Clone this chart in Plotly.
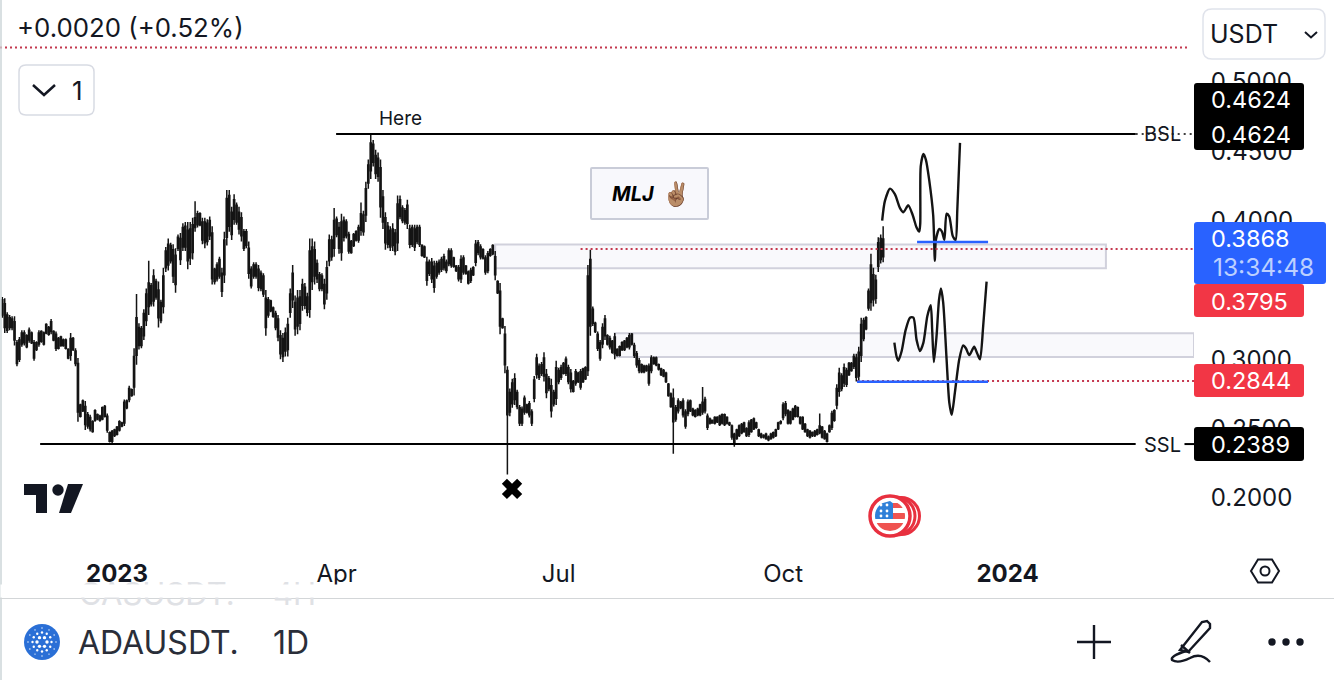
import math
import pandas as pd
import plotly.graph_objects as go

W, H = 1334, 680

# one candle per day from 2022-11-15, all drawn black so direction can't be read from the picture
first_day = "2022-11-15"
candle_high = [
    .345,.344,.334,.332,.331,.331,.314,.316,.321,.321,
    .318,.323,.320,.314,.313,.321,.321,.320,.326,.324,
    .329,.321,.320,.316,.317,.315,.315,.308,.319,.316,
    .308,.301,.268,.271,.270,.262,.260,.256,.264,.261,
    .260,.266,.267,.261,.248,.249,.250,.252,.256,.255,
    .271,.271,.281,.279,.308,.347,.326,.324,.336,.351,
    .371,.355,.365,.358,.356,.343,.366,.381,.387,.384,
    .383,.380,.390,.391,.398,.399,.399,.399,.402,.414,
    .407,.406,.402,.402,.401,.403,.396,.366,.370,.374,
    .366,.392,.422,.422,.410,.419,.413,.410,.406,.394,
    .394,.385,.367,.370,.370,.368,.364,.362,.350,.345,
    .343,.338,.335,.332,.321,.319,.323,.330,.351,.368,
    .346,.350,.350,.358,.355,.348,.387,.387,.385,.372,
    .363,.362,.358,.371,.390,.389,.409,.403,.399,.405,
    .403,.401,.392,.386,.391,.393,.397,.413,.407,.428,
    .444,.462,.458,.451,.449,.444,.422,.406,.399,.396,
    .398,.394,.418,.418,.411,.409,.415,.397,.397,.397,
    .397,.397,.383,.382,.374,.372,.373,.371,.371,.372,
    .374,.376,.372,.380,.380,.374,.368,.368,.375,.375,
    .368,.364,.366,.367,.386,.386,.383,.380,.375,.378,
    .380,.383,.378,.357,.355,.330,.324,.295,.279,.286,
    .290,.278,.267,.266,.274,.268,.270,.264,.288,.304,
    .297,.298,.305,.293,.288,.286,.278,.299,.294,.296,
    .298,.302,.296,.293,.285,.293,.291,.293,.294,.295,
    .368,.379,.338,.327,.320,.314,.326,.332,.318,.317,
    .314,.319,.308,.310,.313,.314,.316,.319,.319,.312,
    .306,.301,.297,.296,.296,.297,.303,.302,.302,.297,
    .294,.293,.291,.283,.276,.279,.267,.272,.270,.272,
    .264,.271,.271,.265,.264,.265,.268,.280,.273,.261,
    .258,.256,.259,.259,.260,.261,.261,.259,.255,.253,
    .247,.250,.253,.254,.255,.251,.256,.257,.258,.255,
    .250,.247,.246,.247,.245,.247,.248,.250,.255,.256,
    .269,.270,.264,.263,.265,.267,.266,.259,.259,.254,
    .250,.249,.248,.249,.250,.261,.252,.249,.247,.253,
    .263,.264,.282,.294,.290,.297,.294,.298,.298,.304,
    .304,.309,.330,.330,.331,.351,.376,.366,.361,.388,
    .390,.396,
]
candle_low = [
    .330,.319,.319,.321,.321,.310,.295,.298,.309,.310,
    .308,.312,.311,.299,.306,.309,.312,.310,.318,.317,
    .318,.313,.306,.307,.309,.309,.307,.300,.299,.306,
    .295,.255,.258,.262,.249,.250,.248,.247,.255,.256,
    .255,.256,.258,.247,.240,.239,.244,.245,.248,.251,
    .252,.264,.269,.273,.274,.296,.307,.308,.314,.324,
    .332,.338,.338,.343,.323,.326,.333,.363,.364,.369,
    .355,.348,.378,.368,.378,.378,.365,.368,.372,.392,
    .395,.396,.383,.380,.382,.386,.354,.354,.356,.358,
    .345,.355,.382,.392,.386,.397,.397,.390,.385,.378,
    .380,.358,.351,.358,.358,.349,.349,.345,.317,.330,
    .334,.330,.321,.313,.300,.298,.302,.302,.330,.337,
    .317,.318,.321,.335,.336,.331,.330,.350,.354,.355,
    .349,.349,.336,.343,.367,.371,.374,.388,.376,.371,
    .385,.387,.376,.376,.381,.385,.384,.389,.389,.399,
    .423,.430,.439,.430,.428,.402,.394,.379,.380,.378,
    .378,.375,.378,.401,.398,.397,.394,.380,.381,.378,
    .383,.381,.374,.373,.353,.360,.355,.348,.358,.361,
    .363,.364,.362,.367,.366,.366,.363,.356,.355,.361,
    .361,.354,.355,.360,.367,.375,.372,.372,.361,.362,
    .374,.375,.357,.347,.318,.322,.290,.217,.259,.265,
    .267,.264,.252,.252,.260,.261,.258,.252,.269,.286,
    .285,.288,.284,.272,.277,.258,.266,.267,.282,.285,
    .289,.288,.282,.276,.276,.281,.283,.278,.283,.285,
    .288,.317,.324,.319,.306,.299,.308,.314,.310,.307,
    .304,.300,.302,.302,.306,.306,.308,.307,.310,.301,
    .294,.290,.290,.290,.291,.281,.290,.296,.295,.292,
    .288,.287,.283,.273,.265,.232,.255,.261,.264,.258,
    .250,.259,.262,.259,.258,.259,.259,.260,.261,.249,
    .253,.254,.253,.254,.252,.253,.252,.253,.252,.242,
    .237,.242,.244,.246,.247,.244,.244,.247,.249,.250,
    .244,.243,.243,.242,.241,.242,.243,.244,.249,.253,
    .256,.259,.253,.253,.256,.258,.258,.253,.249,.247,
    .244,.243,.244,.244,.245,.246,.243,.242,.240,.247,
    .249,.255,.264,.273,.277,.280,.280,.288,.291,.293,
    .284,.284,.298,.313,.321,.335,.335,.338,.340,.363,
    .369,.370,
]
body_top = [
    .343,.340,.332,.330,.329,.327,.312,.314,.319,.319,
    .317,.321,.319,.312,.312,.319,.320,.319,.325,.323,
    .327,.320,.318,.315,.316,.314,.314,.307,.315,.315,
    .306,.297,.267,.270,.266,.260,.258,.255,.263,.260,
    .259,.265,.266,.259,.247,.248,.249,.251,.255,.254,
    .269,.270,.279,.278,.302,.330,.323,.322,.333,.347,
    .355,.353,.360,.356,.350,.341,.360,.378,.383,.382,
    .379,.375,.388,.387,.395,.396,.393,.394,.397,.402,
    .405,.405,.399,.399,.398,.400,.391,.365,.368,.372,
    .362,.386,.416,.418,.406,.415,.411,.406,.402,.392,
    .392,.380,.365,.368,.368,.365,.362,.360,.344,.343,
    .342,.337,.333,.329,.317,.315,.319,.325,.347,.362,
    .341,.344,.345,.354,.352,.345,.378,.381,.379,.369,
    .361,.360,.354,.366,.386,.386,.400,.401,.395,.399,
    .400,.399,.390,.385,.390,.392,.395,.405,.404,.423,
    .440,.456,.455,.447,.445,.438,.417,.402,.396,.393,
    .394,.391,.412,.415,.409,.407,.411,.394,.395,.394,
    .395,.395,.382,.381,.370,.370,.370,.367,.369,.370,
    .372,.374,.370,.378,.378,.373,.367,.366,.372,.373,
    .367,.363,.364,.366,.383,.384,.381,.379,.373,.376,
    .379,.382,.374,.356,.349,.329,.318,.292,.276,.283,
    .286,.276,.265,.264,.272,.267,.268,.262,.285,.301,
    .295,.296,.301,.289,.286,.281,.276,.294,.292,.294,
    .297,.300,.294,.290,.284,.291,.290,.291,.293,.294,
    .360,.372,.336,.326,.318,.312,.323,.329,.317,.315,
    .313,.316,.307,.309,.312,.313,.315,.317,.318,.310,
    .304,.299,.296,.295,.295,.295,.301,.301,.301,.296,
    .293,.292,.290,.282,.275,.272,.265,.270,.269,.270,
    .262,.269,.270,.264,.263,.264,.267,.269,.271,.259,
    .257,.256,.258,.258,.259,.260,.260,.258,.254,.252,
    .246,.249,.252,.253,.254,.250,.254,.256,.257,.254,
    .249,.246,.245,.246,.244,.246,.247,.249,.254,.255,
    .267,.268,.263,.262,.264,.266,.265,.258,.258,.253,
    .249,.248,.247,.248,.249,.252,.251,.248,.246,.252,
    .261,.263,.279,.290,.288,.294,.292,.297,.297,.302,
    .301,.305,.325,.328,.330,.349,.368,.361,.357,.384,
    .387,.3868,
]
body_bottom = [
    .332,.323,.321,.323,.323,.314,.297,.300,.311,.312,
    .309,.314,.312,.301,.307,.311,.313,.311,.319,.318,
    .320,.314,.308,.308,.310,.310,.308,.301,.303,.307,
    .297,.262,.259,.263,.253,.252,.250,.248,.256,.257,
    .256,.257,.259,.249,.241,.241,.245,.246,.249,.252,
    .254,.265,.271,.274,.280,.303,.310,.310,.317,.328,
    .338,.340,.342,.345,.330,.328,.338,.366,.368,.371,
    .360,.354,.380,.372,.381,.381,.371,.373,.377,.395,
    .397,.397,.386,.384,.385,.389,.358,.356,.358,.360,
    .349,.361,.388,.396,.390,.401,.399,.394,.389,.380,
    .382,.362,.353,.360,.360,.352,.351,.347,.323,.332,
    .335,.331,.323,.316,.304,.302,.306,.307,.334,.343,
    .322,.324,.326,.339,.339,.334,.336,.356,.360,.358,
    .351,.351,.340,.348,.371,.374,.380,.390,.380,.377,
    .388,.389,.378,.377,.382,.386,.386,.393,.392,.404,
    .427,.436,.442,.434,.432,.410,.399,.384,.383,.381,
    .382,.378,.384,.403,.400,.399,.398,.383,.383,.381,
    .385,.383,.375,.374,.357,.362,.358,.352,.360,.363,
    .365,.366,.364,.369,.368,.367,.364,.358,.358,.363,
    .362,.355,.357,.361,.370,.377,.374,.373,.363,.364,
    .375,.376,.361,.348,.324,.323,.296,.260,.262,.268,
    .271,.266,.254,.254,.262,.262,.260,.254,.272,.289,
    .287,.290,.288,.276,.279,.263,.268,.272,.284,.287,
    .290,.290,.284,.279,.277,.283,.284,.280,.284,.286,
    .292,.324,.326,.320,.308,.301,.311,.317,.311,.309,
    .305,.304,.303,.303,.307,.307,.309,.309,.311,.303,
    .296,.292,.291,.291,.292,.283,.292,.297,.296,.293,
    .289,.288,.284,.274,.266,.255,.257,.263,.265,.260,
    .252,.261,.263,.260,.259,.260,.260,.262,.263,.251,
    .254,.254,.254,.255,.253,.254,.253,.254,.253,.244,
    .239,.243,.245,.247,.248,.245,.246,.248,.250,.251,
    .245,.244,.244,.243,.242,.243,.244,.245,.250,.254,
    .258,.261,.254,.254,.257,.259,.259,.254,.250,.248,
    .245,.244,.245,.245,.246,.247,.244,.243,.241,.248,
    .251,.256,.267,.277,.279,.283,.282,.289,.292,.295,
    .287,.288,.303,.315,.322,.337,.341,.343,.344,.367,
    .372,.374,
]

# hand drawn forecast curves: days after 2023-01-01, price
upper_days = [313.6,314.7,316.8,318.8,320.9,322.3,324.3,326.1,327.7,328.8,329.2,329.4,330.5,331.5,
              332.9,334.5,335.2,335.6,337.0,338.1,339.1,340.0,341.1,342.5,343.7,344.4,345.5]
upper_price = [.400,.414,.423,.419,.409,.406,.411,.404,.395,.392,.398,.439,.448,.444,
               .429,.404,.371,.386,.394,.392,.386,.405,.403,.389,.386,.408,.456]
lower_days = [318.6,319.5,320.2,321.6,323.2,325.0,326.4,327.7,329.1,330.5,332.1,333.5,334.1,334.8,335.9,
              336.9,337.7,338.6,340.0,341.1,342.1,343.4,345.2,346.8,347.9,349.3,351.3,352.6,353.7,355.0,356.4]
lower_price = [.312,.302,.299,.306,.321,.330,.330,.314,.306,.312,.331,.339,.321,.298,.317,
               .343,.351,.341,.300,.269,.260,.276,.300,.310,.308,.303,.309,.304,.300,.324,.356]

x_ticks = ["2023-01-01", "2023-04-01", "2023-07-01", "2023-10-01", "2024-01-01"]
x_labels = ["<b>2023</b>", "Apr", "Jul", "Oct", "<b>2024</b>"]
y_ticks = [0.20, 0.25, 0.30, 0.35, 0.40, 0.45, 0.50]

bsl_level, ssl_level = 0.4624, 0.2389
top_zone = (0.3657, 0.3827)
low_zone = (0.3017, 0.3187)

DARK = "#131722"
RED_DOT = "#c4384f"
BLUE = "#2962ff"
ZONE_FILL = "#f9f9fc"
ZONE_LINE = "#d1d1dc"

dates = pd.date_range(first_day, periods=len(candle_high), freq="D")
day0 = pd.Timestamp("2023-01-01")


def from_jan1(days):
    return day0 + pd.to_timedelta(days, unit="D")


def px(x):
    return x / W


def py(y):
    return 1 - y / H


def box(x0, y0, x1, y1, r):
    # rounded rect path in page pixels
    a, b, c, d = px(x0), py(y0), px(x1), py(y1)
    rx, ry = r / W, r / H
    return (f"M{a+rx},{b} L{c-rx},{b} Q{c},{b} {c},{b-ry} L{c},{d+ry} Q{c},{d} {c-rx},{d} "
            f"L{a+rx},{d} Q{a},{d} {a},{d+ry} L{a},{b-ry} Q{a},{b} {a+rx},{b} Z")


def poly(points, close=True):
    s = "M" + " L".join(f"{px(x)},{py(y)}" for x, y in points)
    return s + " Z" if close else s


def disc_slice(cx, cy, r, y0, y1, x0=-1e9, x1=1e9):
    # part of a disc between two horizontal lines, for the flag icon
    left, right = [], []
    steps = 8
    for k in range(steps + 1):
        y = y0 + (y1 - y0) * k / steps
        half = math.sqrt(max(r * r - (y - cy) ** 2, 0))
        left.append((max(cx - half, x0), y))
        right.append((min(cx + half, x1), y))
    return poly(left + right[::-1])


def path_shape(path, fill=None, color=None, width=0, layer="above"):
    return dict(type="path", path=path, xref="paper", yref="paper", layer=layer,
                fillcolor=fill if fill else "rgba(0,0,0,0)",
                line=dict(color=color if color else "rgba(0,0,0,0)", width=width))


def circle_shape(cx, cy, r, fill=None, color=None, width=0):
    return dict(type="circle", xref="paper", yref="paper", layer="above",
                x0=px(cx - r), x1=px(cx + r), y0=py(cy + r), y1=py(cy - r),
                fillcolor=fill if fill else "rgba(0,0,0,0)",
                line=dict(color=color if color else "rgba(0,0,0,0)", width=width))


def label(x, y, text, size=23, color=DARK, anchor="left", font="Inter"):
    return dict(x=px(x), y=py(y), xref="paper", yref="paper", text=text, showarrow=False,
                xanchor=anchor, yanchor="middle", align="left", borderpad=0,
                font=dict(family=font, size=size, color=color))


def level_line(x0, x1, level, color, width, dash="solid", layer="above"):
    return dict(type="line", xref="x", yref="y", x0=x0, x1=x1, y0=level, y1=level, layer=layer,
                line=dict(color=color, width=width, dash=dash))


fig = go.Figure()
fig.add_trace(go.Candlestick(
    x=dates, open=body_bottom, high=candle_high, low=candle_low, close=body_top,
    increasing=dict(line=dict(color="#141414", width=1.5), fillcolor="#141414"),
    decreasing=dict(line=dict(color="#141414", width=1.5), fillcolor="#141414"),
    whiskerwidth=0, hoverinfo="skip", showlegend=False))

for days, price in [(upper_days, upper_price), (lower_days, lower_price)]:
    fig.add_trace(go.Scatter(
        x=from_jan1(days), y=price, mode="lines", hoverinfo="skip", showlegend=False,
        line=dict(color="#141414", width=2.4, shape="spline", smoothing=0.7)))

# the X under the June wick
fig.add_trace(go.Scatter(
    x=[from_jan1(161.9)], y=[0.2066], mode="markers", hoverinfo="skip", showlegend=False,
    marker=dict(symbol="x", size=18, color="#000000", line=dict(width=0))))

shapes = [
    # supply / demand boxes
    dict(type="rect", xref="x", yref="y", layer="below", x0=from_jan1(155), x1=from_jan1(405.3),
         y0=top_zone[0], y1=top_zone[1], fillcolor=ZONE_FILL, line=dict(color=ZONE_LINE, width=2)),
    dict(type="rect", xref="x", yref="y", layer="below", x0=from_jan1(204), x1=from_jan1(441.4),
         y0=low_zone[0], y1=low_zone[1], fillcolor=ZONE_FILL, line=dict(color=ZONE_LINE, width=2)),
    # levels
    level_line(from_jan1(89.8), from_jan1(417.5), bsl_level, "#000000", 2),
    level_line(from_jan1(417.5), from_jan1(441.4), bsl_level, "#000000", 1.5, "2px,4px"),
    level_line(from_jan1(-31.5), from_jan1(417.5), ssl_level, "#000000", 2),
    level_line(from_jan1(437.5), from_jan1(441.4), ssl_level, "#000000", 2),
    level_line(from_jan1(190), from_jan1(441.4), 0.3795, RED_DOT, 2, "2px,3px"),
    level_line(from_jan1(303.3), from_jan1(441.4), 0.2844, RED_DOT, 2, "2px,3px"),
    level_line(from_jan1(303.3), from_jan1(357), 0.2838, BLUE, 2.4),
    level_line(from_jan1(327.9), from_jan1(357), 0.3846, BLUE, 2.4),
    dict(type="line", xref="paper", yref="paper", x0=0, x1=px(1190), y0=py(47.5), y1=py(47.5), layer="above",
         line=dict(color=RED_DOT, width=2, dash="2px,3px")),
    # chrome
    dict(type="line", xref="paper", yref="paper", x0=px(1), x1=px(1), y0=0, y1=1, layer="above",
         line=dict(color="#cdd6d8", width=1.5)),
    dict(type="line", xref="paper", yref="paper", x0=0, x1=1, y0=py(598.5), y1=py(598.5), layer="above",
         line=dict(color="#d3d6d8", width=1.2)),
    path_shape(box(1203, 9, 1325, 59, 9), "#ffffff", "#e0e3eb", 1.5),
    path_shape(poly([(1305, 32), (1311, 37.5), (1317, 32)], False), None, DARK, 2),
    path_shape(box(19, 65, 94, 115, 7), "#ffffff", "#d8dbe3", 1.5),
    path_shape(poly([(33, 85), (44, 95), (55, 85)], False), None, DARK, 2.5),
    path_shape(box(591, 168, 708, 219, 1), "#f8f8fc", "#c9ccd8", 2),
    # price labels
    path_shape(box(1194, 83, 1304, 150, 3), "#000000"),
    path_shape(box(1194, 222, 1326, 284, 3), BLUE),
    path_shape(box(1194, 284, 1304, 317, 3), "#f23645"),
    path_shape(box(1194, 364, 1304, 397, 3), "#f23645"),
    path_shape(box(1194, 427, 1304, 461, 3), "#000000"),
    # tradingview logo
    path_shape(poly([(24, 484), (47, 484), (47, 513), (36, 513), (36, 495), (24, 495)]), DARK),
    circle_shape(58, 490, 5.7, DARK),
    path_shape(poly([(68, 484), (83, 484), (71, 513), (59, 513)]), DARK),
    # earnings flag
    circle_shape(901, 516, 18.5, "#ffffff", "#e8303f", 3),
    circle_shape(896, 516, 19, "#ffffff", "#e8303f", 3),
    circle_shape(890, 516, 20, "#ffffff", "#e8303f", 3.5),
    path_shape(disc_slice(890, 516, 15, 503, 508, 893), "#ef5350"),
    path_shape(disc_slice(890, 516, 15, 513, 519, 893), "#ef5350"),
    path_shape(disc_slice(890, 516, 15, 523, 531), "#ef5350"),
    path_shape(disc_slice(890, 516, 15, 501, 519, x1=893), "#2f80d8"),
    # hexagon settings icon
    path_shape(poly([(1251, 571), (1258, 559.5), (1272, 559.5), (1279, 571), (1272, 582.5), (1258, 582.5)]), None, DARK, 2),
    circle_shape(1265, 571, 4.5, None, DARK, 2),
    # ada logo
    circle_shape(42, 642, 18, "#2a6fd6"),
    # bottom toolbar
    dict(type="line", xref="paper", yref="paper", x0=px(1077), x1=px(1111), y0=py(642), y1=py(642), layer="above",
         line=dict(color=DARK, width=2.4)),
    dict(type="line", xref="paper", yref="paper", x0=px(1094), x1=px(1094), y0=py(625), y1=py(659), layer="above",
         line=dict(color=DARK, width=2.4)),
    path_shape(poly([(1180, 650), (1202, 622), (1207, 621), (1210, 624), (1210, 628), (1188, 652), (1180, 650)]), None, DARK, 2.4),
    path_shape(poly([(1181, 645), (1190, 653)], False), None, DARK, 2.4),
    path_shape(f"M{px(1186)},{py(651)} Q{px(1170)},{py(656)} {px(1172)},{py(660)} "
               f"Q{px(1178)},{py(664)} {px(1190)},{py(658)} Q{px(1201)},{py(652)} {px(1210)},{py(662)}",
               None, DARK, 2.4),
    circle_shape(1272, 642, 3.7, DARK),
    circle_shape(1286, 642, 3.7, DARK),
    circle_shape(1300, 642, 3.7, DARK),
]

# cardano dots
for ring, count, dot in [(5, 6, 1.7), (9.5, 12, 1.2), (14, 12, 0.7)]:
    for k in range(count):
        ang = 2 * math.pi * k / count
        shapes.append(circle_shape(42 + ring * math.cos(ang), 642 + ring * math.sin(ang), dot, "#ffffff"))

# stars on the flag
for sx, sy in [(881, 505), (887, 505), (881, 511), (887, 511), (881, 516), (887, 516)]:
    shapes.append(circle_shape(sx, sy, 1.4, "#ffffff"))

annotations = [
    label(16, 28, "+0.0020 (+0.52%)", 25.8),
    label(1209, 34, "USDT", 25),
    label(71, 91, "1", 26),
    label(378, 118, "Here", 19),
    label(1143, 134.5, "BSL", 20),
    label(1143, 444.5, "SSL", 20),
    label(1210, 99.5, "0.4624", 23.5, "#ffffff"),
    label(1210, 134.5, "0.4624", 23.5, "#ffffff"),
    label(1210, 238.5, "0.3868", 23.5, "#ffffff"),
    label(1212, 267.5, "13:34:48", 24.5, "#bcd0ff"),
    label(1210, 301.5, "0.3795", 23.5, "#ffffff"),
    label(1210, 380.5, "0.2844", 23.5, "#ffffff"),
    label(1210, 444.5, "0.2389", 23.5, "#ffffff"),
    label(611, 194, "<b><i>MLJ</i></b>", 20, "#000000"),
    label(661, 194, "✌🏽", 23, "#a8754f"),
    # ghost of the row above, only its lower half shows
    label(78, 593, "CASUSDT.", 31, "#dfe1e5"),
    label(272, 593, "4H", 31, "#dfe1e5"),
    dict(x=px(0), y=py(597.5), xref="paper", yref="paper", text=" ", showarrow=False, xanchor="left", yanchor="bottom",
         width=400, height=12, bgcolor="#ffffff", borderpad=0, font=dict(size=10)),
    label(77, 642, "ADAUSDT.", 32, "#2a2e39"),
    label(272, 642, "1D", 32, "#2a2e39"),
]

fig.update_layout(
    width=W, height=H, autosize=False,
    margin=dict(l=0, r=0, t=0, b=0),
    paper_bgcolor="#ffffff", plot_bgcolor="#ffffff",
    shapes=shapes, annotations=annotations,
    font=dict(family="Inter", size=23, color=DARK),
    hovermode=False,
    xaxis=dict(
        domain=[0, 1194 / W], type="date", rangeslider=dict(visible=False),
        range=[from_jan1(-47.95), from_jan1(441.4)],
        tickmode="array", tickvals=x_ticks, ticktext=x_labels, tickangle=0,
        showgrid=False, zeroline=False, showline=False,
        ticks="outside", ticklen=0, tickcolor="rgba(0,0,0,0)",
        tickfont=dict(family="Inter", size=24, color=DARK)),
    yaxis=dict(
        domain=[1 - 552 / H, 1], side="right", anchor="x",
        range=[0.1611, 0.5590], tickmode="array", tickvals=y_ticks,
        tickformat=".4f", showgrid=False, zeroline=False, showline=False,
        ticks="outside", ticklen=11, tickcolor="rgba(0,0,0,0)",
        tickfont=dict(family="Inter", size=24, color=DARK)),
)

fig.write_html("out.html", config={"displayModeBar": False},
               post_script="document.body.style.margin='0';")
